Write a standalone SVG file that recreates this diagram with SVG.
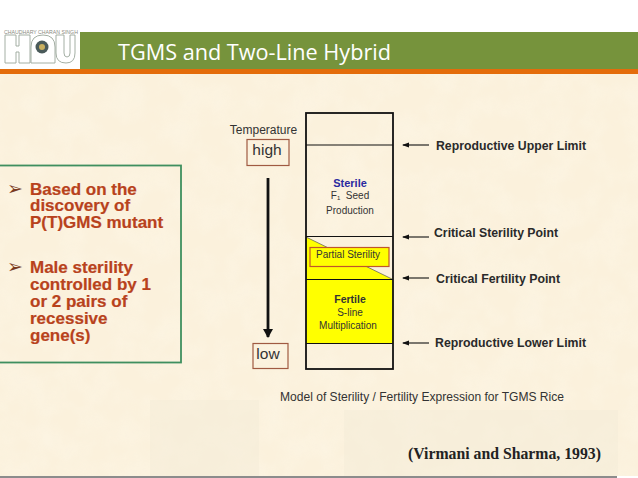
<svg xmlns="http://www.w3.org/2000/svg" width="638" height="478" viewBox="0 0 638 478">
<style>
text{font-family:"Liberation Sans",Arial,sans-serif}
.red{font-size:17px;font-weight:bold;fill:#b8421c;stroke:#b8421c;stroke-width:.2px}
.bul{font-size:19px;fill:#7a3a20;font-family:"DejaVu Sans",sans-serif}
.lab{font-size:13.500px;font-weight:bold;fill:#2a2a2a}
.dk{fill:#333}
.thin{stroke:#111;stroke-width:1.1;fill:none}
.conn{stroke:#111;stroke-width:1.1;fill:none;marker-end:url(#ah)}
.tb{fill:none;stroke:#a05a42;stroke-width:1.2}
.hau{fill:#fff;stroke:#9aa69a;stroke-width:.9}
</style>
<defs>
<marker id="ah" markerUnits="userSpaceOnUse" markerWidth="8" markerHeight="7" refX="6" refY="3" orient="auto"><path d="M0 0.500L7 3L0 5.500Z" fill="#111"/></marker>
<marker id="big" markerUnits="userSpaceOnUse" markerWidth="10" markerHeight="11" refX="8" refY="5" orient="auto"><path d="M0 0L9 5L0 10Z" fill="#111"/></marker>
<filter id="mottle" x="0" y="0" width="100%" height="100%"><feTurbulence type="fractalNoise" baseFrequency="0.035" numOctaves="3" seed="4"/><feColorMatrix values="0 0 0 0 1  0 0 0 0 0.98  0 0 0 0 0.9  0.9 0 0 0 -0.3"/></filter>
</defs>
<rect width="638" height="478" fill="#fff"/>
<rect id="bg" y="74" width="638" height="402" fill="#fbf1dc"/>
<rect y="74" width="638" height="402" filter="url(#mottle)" opacity=".5"/>
<rect x="150" y="400" width="109" height="76" fill="#f5ecd8" opacity=".6"/>
<rect x="344" y="410" width="274" height="66" fill="#f5ecd8" opacity=".6"/>
<rect x="80" y="32" width="558" height="37" fill="#76933c"/>
<rect y="69" width="638" height="5" fill="#e46c0a"/>
<rect y="476" width="617" height="2" fill="#8c8c8c"/>
<g id="logo">
<text x="4" y="33.500" font-size="5.200" fill="#8a8a80">CHAUDHARY CHARAN SINGH</text>
<path class="hau" d="M5 35H16V46H19V35H30V63H19V52H16V63H5Z"/>
<path class="hau" d="M31 63L31 47Q31 35 43 35Q55 35 55 47L55 63Z"/>
<path class="hau" d="M56 35H64V53Q64 57 67 57Q70 57 70 53V35H75V53Q75 63 66 63Q56 63 56 53Z"/>
<circle cx="42" cy="47" r="6.500" fill="#4a5a5a"/><circle cx="42" cy="47" r="3" fill="#c9b060"/>
</g>
<text id="title" x="118" y="60" font-size="21.500" fill="#fff" style="font-family:'Open Sans',sans-serif" textLength="273" lengthAdjust="spacingAndGlyphs">TGMS and Two-Line Hybrid</text>
<g id="info">
<rect x="-2" y="165.500" width="183" height="197" fill="none" stroke="#3f8f5f" stroke-width="1.800"/>
<text class="bul" x="7" y="195">➢</text>
<text class="red" x="30" y="195">Based on the</text>
<text class="red" x="30" y="211">discovery of</text>
<text class="red" x="30" y="228">P(T)GMS mutant</text>
<text class="bul" x="7" y="273">➢</text>
<text class="red" x="30" y="273">Male sterility</text>
<text class="red" x="30" y="290">controlled by 1</text>
<text class="red" x="30" y="307">or 2 pairs of</text>
<text class="red" x="30" y="324">recessive</text>
<text class="red" x="30" y="341">gene(s)</text>
</g>
<g id="temp-high">
<text x="263.500" y="134" font-size="12" text-anchor="middle" class="dk">Temperature</text>
<rect class="tb" x="247" y="139.500" width="42" height="26"/>
<text x="267" y="154.500" font-size="15.500" text-anchor="middle" class="dk">high</text>
</g>
<g id="temp-low">
<rect class="tb" x="253" y="343.500" width="35" height="25"/>
<text x="268" y="358.500" font-size="15.500" text-anchor="middle" class="dk">low</text>
</g>
<g id="column">
<rect x="306" y="279.500" width="87" height="64" fill="#ffff00"/>
<path d="M306 237L393 279.500H306Z" fill="#ffff00" stroke="#555" stroke-width=".7"/>
<rect x="306" y="113" width="87" height="256" fill="none" stroke="#111" stroke-width="1.800"/>
<path class="thin" d="M306 145H393M306 236.500H393M306 279.500H393M306 343.500H393"/>
<text x="350" y="187" font-size="11" font-weight="bold" text-anchor="middle" fill="#2a2aa0">Sterile</text>
<text x="350" y="199" font-size="10" text-anchor="middle" class="dk" xml:space="preserve">F₁  Seed</text>
<text x="350" y="214" font-size="10" text-anchor="middle" class="dk">Production</text>
<text x="350" y="303" font-size="10.500" font-weight="bold" text-anchor="middle" fill="#333">Fertile</text>
<text x="350" y="316" font-size="10" text-anchor="middle" class="dk">S-line</text>
<text x="348" y="329" font-size="10" text-anchor="middle" class="dk">Multiplication</text>
</g>
<g id="partial">
<rect x="310" y="247.500" width="79" height="19" fill="#ffff00" stroke="#c0562a" stroke-width="1.200"/>
<text x="348" y="258" font-size="10" text-anchor="middle" class="dk">Partial  Sterility</text>
</g>
<g id="connectors">
<path d="M268 178V337" stroke="#111" stroke-width="2.800" fill="none" marker-end="url(#big)"/>
<path class="conn" d="M429 145H403"/>
<path class="conn" d="M429 237H403"/>
<path class="conn" d="M429 278H403"/>
<path class="conn" d="M429 343H403"/>
</g>
<g id="labels">
<text class="lab" x="436" y="150" textLength="150" lengthAdjust="spacingAndGlyphs">Reproductive Upper Limit</text>
<text class="lab" x="434" y="237" textLength="124" lengthAdjust="spacingAndGlyphs">Critical  Sterility Point</text>
<text class="lab" x="436" y="283" textLength="124" lengthAdjust="spacingAndGlyphs">Critical Fertility Point</text>
<text class="lab" x="435" y="347" textLength="151" lengthAdjust="spacingAndGlyphs">Reproductive Lower Limit</text>
</g>
<text x="280" y="401" font-size="13" class="dk" textLength="284" lengthAdjust="spacingAndGlyphs">Model of Sterility / Fertility Expression for TGMS Rice</text>
<text x="408" y="459" font-size="16" font-weight="bold" fill="#222" style="font-family:'Liberation Serif',serif" textLength="193" lengthAdjust="spacingAndGlyphs">(Virmani and Sharma, 1993)</text>
</svg>
